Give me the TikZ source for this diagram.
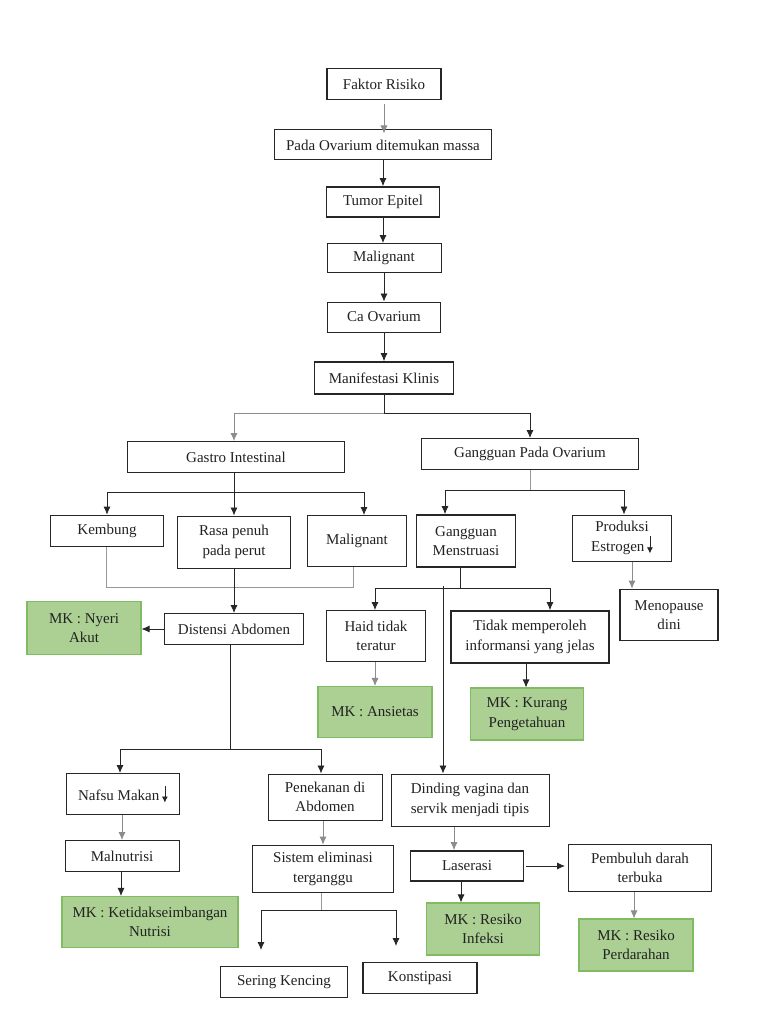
\documentclass[tikz,border=0pt]{standalone}
\usepackage{fontspec}
\setmainfont{Liberation Serif}
\usetikzlibrary{arrows.meta,calc}
\definecolor{mkfill}{RGB}{172,208,148}
\definecolor{mkdraw}{RGB}{128,188,98}
\definecolor{txt}{RGB}{34,34,34}
\tikzset{
  box/.style={draw=black!85, line width=1pt, fill=white, text=txt, align=center, inner sep=1pt,
    font=\fontsize{15}{19.5}\selectfont},
  tbox/.style={box, line width=1.7pt},
  mkbox/.style={box, fill=mkfill, draw=mkdraw, line width=1.1pt},
  arr/.style={draw=black!85, line width=0.8pt, -{Latex[length=8pt,width=7pt]}},
  garr/.style={arr, draw=black!45},
  ln/.style={draw=black!85, line width=0.8pt},
  gln/.style={draw=black!40, line width=1pt}
}
\newcommand{\dnarrow}{\,\tikz[baseline=0pt]\draw[draw=black!85, line width=0.7pt, -{Latex[length=6pt,width=6pt]}] (0pt,15pt)--(0pt,-2pt);}
\begin{document}
\begin{tikzpicture}[x=1pt,y=-1pt]
\path[use as bounding box, fill=white] (0,0) rectangle (768,1024);

% top chain
\node[tbox, minimum width=114, minimum height=31] (faktor) at (384,84) {Faktor Risiko};
\node[box, minimum width=217, minimum height=30] (pada) at (383,145) {Pada Ovarium ditemukan massa};
\node[tbox, minimum width=113, minimum height=30] (tumor) at (383,202) {Tumor Epitel};
\node[box, minimum width=114, minimum height=29] (malig) at (384,258) {Malignant};
\node[box, minimum width=113, minimum height=30] (ca) at (384,317) {Ca Ovarium};
\node[tbox, minimum width=139, minimum height=32] (manif) at (384,378) {Manifestasi Klinis};

\draw[garr] ([yshift=-4pt]faktor.south) -- ([yshift=-4pt]faktor.south |- pada.north);
\draw[arr] (pada.south) -- (pada.south |- tumor.north);
\draw[arr] (tumor.south) -- (tumor.south |- malig.north);
\draw[arr] (malig.south) -- (malig.south |- ca.north);
\draw[arr] (ca.south) -- (ca.south |- manif.north);

% level 2
\node[box, minimum width=217, minimum height=31] (gastro) at (236,457) {Gastro Intestinal};
\node[box, minimum width=217, minimum height=31] (gpo) at (530,454) {Gangguan Pada Ovarium};
\coordinate (jm) at (384,413);
\draw[ln] (manif.south) -- (jm);
\draw[garr] (jm) -| ([xshift=-2pt]gastro.north);
\draw[arr] (jm) -| (gpo.north);

% gastro children
\node[tbox, minimum width=113, minimum height=31] (kembung) at (107,531) {Kembung};
\node[box, minimum width=113, minimum height=52] (rasa) at (234,542) {Rasa penuh\\pada perut};
\node[box, minimum width=99, minimum height=51] (mal2) at (357,541) {Malignant};
\coordinate (jg) at (234,492);
\draw[ln] (jg |- gastro.south) -- (jg);
\draw[arr] (jg) -| (kembung.north);
\draw[arr] (jg) -- (rasa.north);
\draw[arr] (jg) -| ([xshift=7pt]mal2.north);

% merge to distensi
\node[box, minimum width=139, minimum height=31] (dist) at (234,629) {Distensi Abdomen};
\node[mkbox, minimum width=114, minimum height=53] (nyeri) at (84,628) {MK : Nyeri\\Akut};
\coordinate (jk) at (106,587);
\draw[gln] ([xshift=-1pt]kembung.south) -- (jk) -- ([xshift=-4pt]mal2.south |- jk) -- ([xshift=-4pt]mal2.south);
\draw[arr] (rasa.south) -- (rasa.south |- dist.north);
\draw[arr] (dist.west) -- (dist.west -| nyeri.east);

% distensi children
\coordinate (jd) at (230,749);
\draw[ln] (jd |- dist.south) -- (jd);
\node[box, minimum width=113, minimum height=41] (nafsu) at (123,794) {Nafsu Makan\dnarrow};
\node[box, minimum width=114, minimum height=46] (pen) at (325,797) {Penekanan di\\Abdomen};
\draw[arr] (jd) -| ([xshift=-3pt]nafsu.north);
\draw[arr] (jd) -| ([xshift=-4pt]pen.north);

\node[box, minimum width=114, minimum height=31] (maln) at (122,856) {Malnutrisi};
\node[mkbox, minimum width=176, minimum height=51] (ketid) at (150,922) {MK : Ketidakseimbangan\\Nutrisi};
\draw[garr] (maln.north |- nafsu.south) -- (maln.north);
\draw[arr] ([xshift=-1pt]maln.south) -- ([xshift=-1pt]maln.south |- ketid.north);

\node[tbox, minimum width=141, minimum height=47] (sistem) at (323,869) {Sistem eliminasi\\terganggu};
\draw[garr] (sistem.north |- pen.south) -- (sistem.north);
\coordinate (js) at (321,910);
\coordinate (e1) at (261,950);
\coordinate (e2) at (396,946);
\draw[gln] (js |- sistem.south) -- (js);
\draw[arr] (js) -| (e1);
\draw[arr] (js) -| (e2);
\node[tbox, minimum width=127, minimum height=31] (sering) at (284,982) {Sering Kencing};
\node[tbox, minimum width=114, minimum height=31] (konst) at (420,978) {Konstipasi};

% gangguan pada ovarium children
\node[tbox, minimum width=99, minimum height=52] (menstr) at (466,541) {Gangguan\\Menstruasi};
\node[box, minimum width=99, minimum height=46] (prod) at (622,538) {Produksi\\Estrogen\dnarrow};
\coordinate (jo) at (530,490);
\draw[gln] (gpo.south) -- (jo);
\draw[arr] (jo) -| ([xshift=-21pt]menstr.north);
\draw[arr] (jo) -| ([xshift=2pt]prod.north);

\node[tbox, minimum width=98, minimum height=51] (meno) at (669,615) {Menopause\\dini};
\draw[garr] ([xshift=10pt]prod.south) -- ([xshift=10pt]prod.south |- meno.north);

% menstruasi children
\node[box, minimum width=99, minimum height=51] (haid) at (376,636) {Haid tidak\\teratur};
\node[tbox, minimum width=158, minimum height=52] (tidak) at (530,637) {Tidak memperoleh\\informansi yang jelas};
\node[box, minimum width=158, minimum height=52] (dinding) at (470,800) {Dinding vagina dan\\servik menjadi tipis};
\coordinate (jmn) at (460,588);
\coordinate (jv) at (443,588);
\draw[ln] ([xshift=-6pt]menstr.south) -- (jmn);
\draw[arr] (jmn) -| ([xshift=-1pt]haid.north);
\draw[arr] (jmn) -| ([xshift=20pt]tidak.north);
\draw[arr] ([yshift=2pt]jv) -- (jv |- dinding.north);

\node[mkbox, minimum width=114, minimum height=51] (ansi) at (375,712) {MK : Ansietas};
\node[mkbox, minimum width=113, minimum height=52] (kurang) at (527,714) {MK : Kurang\\Pengetahuan};
\draw[garr] ([xshift=-1pt]haid.south) -- ([xshift=-1pt]haid.south |- ansi.north);
\draw[arr] ([xshift=-4pt]tidak.south) -- ([xshift=-4pt]tidak.south |- kurang.north);

% dinding children
\node[tbox, minimum width=113, minimum height=30] (laser) at (467,866) {Laserasi};
\node[box, minimum width=143, minimum height=47] (pemb) at (640,868) {Pembuluh darah\\terbuka};
\draw[garr] ([xshift=-16pt]dinding.south) -- ([xshift=-16pt]dinding.south |- laser.north);
\draw[arr, shorten >=5pt] ([xshift=2pt]laser.east) -- ([xshift=2pt]laser.east -| pemb.west);

\node[mkbox, minimum width=113, minimum height=52] (infeksi) at (483,929) {MK : Resiko\\Infeksi};
\node[mkbox, minimum width=114, minimum height=52] (perd) at (636,945) {MK : Resiko\\Perdarahan};
\draw[arr] ([xshift=-6pt]laser.south) -- ([xshift=-6pt]laser.south |- infeksi.north);
\draw[garr] ([xshift=-6pt]pemb.south) -- ([xshift=-6pt]pemb.south |- perd.north);

\end{tikzpicture}
\end{document}
